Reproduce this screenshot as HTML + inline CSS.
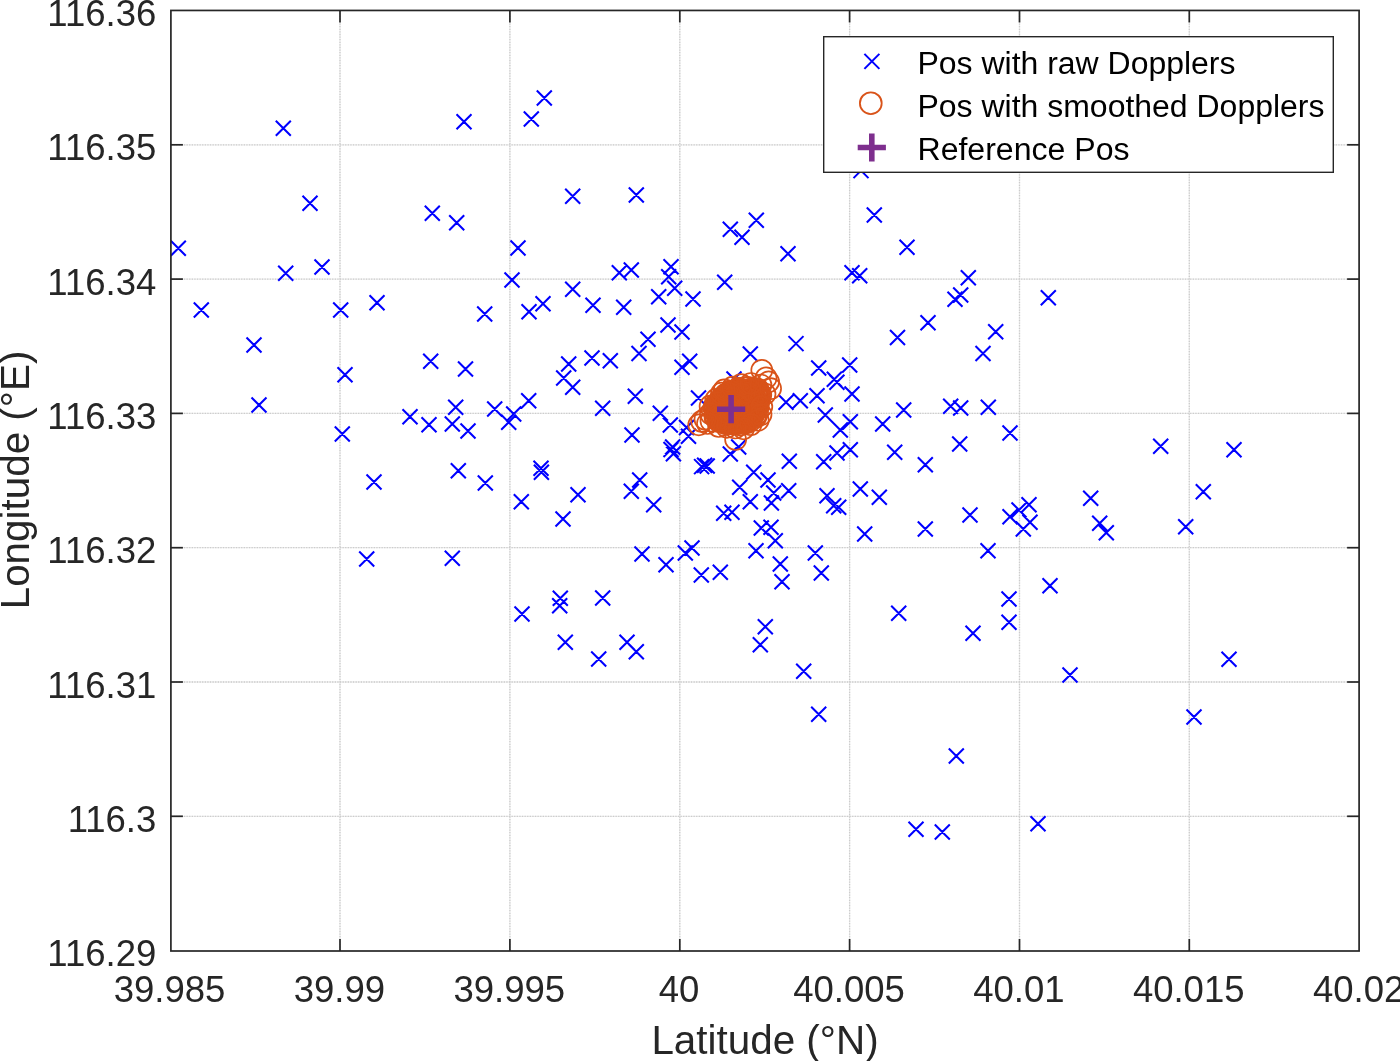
<!DOCTYPE html><html><head><meta charset="utf-8"><title>Scatter</title><style>html,body{margin:0;padding:0;background:#fff}svg{display:block}text{font-family:"Liberation Sans",sans-serif}</style></head><body>
<svg width="1400" height="1061" viewBox="0 0 1400 1061">
<rect width="1400" height="1061" fill="#fff"/>
<g stroke="#eeeeee" stroke-width="1.3" fill="none"><line x1="340.0" y1="10.45" x2="340.0" y2="951.0"/><line x1="509.9" y1="10.45" x2="509.9" y2="951.0"/><line x1="679.8" y1="10.45" x2="679.8" y2="951.0"/><line x1="849.6" y1="10.45" x2="849.6" y2="951.0"/><line x1="1019.5" y1="10.45" x2="1019.5" y2="951.0"/><line x1="1189.3" y1="10.45" x2="1189.3" y2="951.0"/><line x1="170.9" y1="144.8" x2="1359.1" y2="144.8"/><line x1="170.9" y1="279.1" x2="1359.1" y2="279.1"/><line x1="170.9" y1="413.4" x2="1359.1" y2="413.4"/><line x1="170.9" y1="547.7" x2="1359.1" y2="547.7"/><line x1="170.9" y1="682.0" x2="1359.1" y2="682.0"/><line x1="170.9" y1="816.3" x2="1359.1" y2="816.3"/></g>
<g stroke="#cccccc" stroke-width="1.3" stroke-dasharray="1.3 1.3" fill="none"><line x1="340.0" y1="10.45" x2="340.0" y2="951.0"/><line x1="509.9" y1="10.45" x2="509.9" y2="951.0"/><line x1="679.8" y1="10.45" x2="679.8" y2="951.0"/><line x1="849.6" y1="10.45" x2="849.6" y2="951.0"/><line x1="1019.5" y1="10.45" x2="1019.5" y2="951.0"/><line x1="1189.3" y1="10.45" x2="1189.3" y2="951.0"/><line x1="170.9" y1="144.8" x2="1359.1" y2="144.8"/><line x1="170.9" y1="279.1" x2="1359.1" y2="279.1"/><line x1="170.9" y1="413.4" x2="1359.1" y2="413.4"/><line x1="170.9" y1="547.7" x2="1359.1" y2="547.7"/><line x1="170.9" y1="682.0" x2="1359.1" y2="682.0"/><line x1="170.9" y1="816.3" x2="1359.1" y2="816.3"/></g>
<clipPath id="cp"><rect x="170.9" y="10.45" width="1188.1999999999998" height="940.55"/></clipPath>
<g clip-path="url(#cp)">
<path d="M275.8 120.8l15.0 15.0m0 -15.0l-15.0 15.0M302.5 195.8l15.0 15.0m0 -15.0l-15.0 15.0M424.8 205.8l15.0 15.0m0 -15.0l-15.0 15.0M449.2 215.2l15.0 15.0m0 -15.0l-15.0 15.0M456.5 114.2l15.0 15.0m0 -15.0l-15.0 15.0M170.8 240.8l15.0 15.0m0 -15.0l-15.0 15.0M278.2 265.8l15.0 15.0m0 -15.0l-15.0 15.0M314.5 259.5l15.0 15.0m0 -15.0l-15.0 15.0M193.8 302.5l15.0 15.0m0 -15.0l-15.0 15.0M333.2 302.5l15.0 15.0m0 -15.0l-15.0 15.0M369.5 295.2l15.0 15.0m0 -15.0l-15.0 15.0M246.5 337.5l15.0 15.0m0 -15.0l-15.0 15.0M536.8 90.5l15.0 15.0m0 -15.0l-15.0 15.0M523.8 111.5l15.0 15.0m0 -15.0l-15.0 15.0M565.2 188.8l15.0 15.0m0 -15.0l-15.0 15.0M628.8 187.5l15.0 15.0m0 -15.0l-15.0 15.0M510.5 240.5l15.0 15.0m0 -15.0l-15.0 15.0M504.5 272.5l15.0 15.0m0 -15.0l-15.0 15.0M477.2 306.5l15.0 15.0m0 -15.0l-15.0 15.0M521.5 304.2l15.0 15.0m0 -15.0l-15.0 15.0M535.5 296.2l15.0 15.0m0 -15.0l-15.0 15.0M565.2 281.8l15.0 15.0m0 -15.0l-15.0 15.0M585.5 297.8l15.0 15.0m0 -15.0l-15.0 15.0M611.8 265.2l15.0 15.0m0 -15.0l-15.0 15.0M623.8 262.5l15.0 15.0m0 -15.0l-15.0 15.0M616.2 299.8l15.0 15.0m0 -15.0l-15.0 15.0M663.5 259.2l15.0 15.0m0 -15.0l-15.0 15.0M661.2 269.2l15.0 15.0m0 -15.0l-15.0 15.0M667.2 280.8l15.0 15.0m0 -15.0l-15.0 15.0M651.2 289.2l15.0 15.0m0 -15.0l-15.0 15.0M685.5 291.5l15.0 15.0m0 -15.0l-15.0 15.0M660.5 317.5l15.0 15.0m0 -15.0l-15.0 15.0M674.5 324.5l15.0 15.0m0 -15.0l-15.0 15.0M640.5 331.8l15.0 15.0m0 -15.0l-15.0 15.0M631.5 346.0l15.0 15.0m0 -15.0l-15.0 15.0M717.2 274.8l15.0 15.0m0 -15.0l-15.0 15.0M722.8 221.8l15.0 15.0m0 -15.0l-15.0 15.0M734.5 229.8l15.0 15.0m0 -15.0l-15.0 15.0M748.8 212.8l15.0 15.0m0 -15.0l-15.0 15.0M780.5 246.2l15.0 15.0m0 -15.0l-15.0 15.0M788.5 336.1l15.0 15.0m0 -15.0l-15.0 15.0M742.8 346.5l15.0 15.0m0 -15.0l-15.0 15.0M853.5 163.1l15.0 15.0m0 -15.0l-15.0 15.0M866.8 207.5l15.0 15.0m0 -15.0l-15.0 15.0M899.5 239.8l15.0 15.0m0 -15.0l-15.0 15.0M844.5 265.2l15.0 15.0m0 -15.0l-15.0 15.0M852.2 268.2l15.0 15.0m0 -15.0l-15.0 15.0M890.0 330.0l15.0 15.0m0 -15.0l-15.0 15.0M920.5 315.2l15.0 15.0m0 -15.0l-15.0 15.0M960.8 270.2l15.0 15.0m0 -15.0l-15.0 15.0M947.5 291.8l15.0 15.0m0 -15.0l-15.0 15.0M953.2 287.5l15.0 15.0m0 -15.0l-15.0 15.0M1040.8 290.2l15.0 15.0m0 -15.0l-15.0 15.0M988.2 324.2l15.0 15.0m0 -15.0l-15.0 15.0M975.5 346.0l15.0 15.0m0 -15.0l-15.0 15.0M251.5 397.5l15.0 15.0m0 -15.0l-15.0 15.0M337.5 367.2l15.0 15.0m0 -15.0l-15.0 15.0M334.8 426.5l15.0 15.0m0 -15.0l-15.0 15.0M423.2 353.8l15.0 15.0m0 -15.0l-15.0 15.0M458.0 361.5l15.0 15.0m0 -15.0l-15.0 15.0M402.5 409.2l15.0 15.0m0 -15.0l-15.0 15.0M421.5 417.2l15.0 15.0m0 -15.0l-15.0 15.0M448.2 399.8l15.0 15.0m0 -15.0l-15.0 15.0M444.8 416.5l15.0 15.0m0 -15.0l-15.0 15.0M460.5 423.5l15.0 15.0m0 -15.0l-15.0 15.0M366.5 474.5l15.0 15.0m0 -15.0l-15.0 15.0M450.8 463.2l15.0 15.0m0 -15.0l-15.0 15.0M359.2 551.5l15.0 15.0m0 -15.0l-15.0 15.0M444.8 550.8l15.0 15.0m0 -15.0l-15.0 15.0M561.2 356.5l15.0 15.0m0 -15.0l-15.0 15.0M584.5 350.5l15.0 15.0m0 -15.0l-15.0 15.0M602.8 353.2l15.0 15.0m0 -15.0l-15.0 15.0M556.2 370.5l15.0 15.0m0 -15.0l-15.0 15.0M565.2 379.8l15.0 15.0m0 -15.0l-15.0 15.0M674.5 359.8l15.0 15.0m0 -15.0l-15.0 15.0M682.2 353.8l15.0 15.0m0 -15.0l-15.0 15.0M811.2 360.5l15.0 15.0m0 -15.0l-15.0 15.0M842.2 357.5l15.0 15.0m0 -15.0l-15.0 15.0M826.8 371.7l15.0 15.0m0 -15.0l-15.0 15.0M829.4 374.8l15.0 15.0m0 -15.0l-15.0 15.0M809.5 388.2l15.0 15.0m0 -15.0l-15.0 15.0M844.5 386.5l15.0 15.0m0 -15.0l-15.0 15.0M778.5 394.8l15.0 15.0m0 -15.0l-15.0 15.0M792.8 393.2l15.0 15.0m0 -15.0l-15.0 15.0M521.2 393.2l15.0 15.0m0 -15.0l-15.0 15.0M487.2 401.5l15.0 15.0m0 -15.0l-15.0 15.0M506.2 406.5l15.0 15.0m0 -15.0l-15.0 15.0M501.2 414.8l15.0 15.0m0 -15.0l-15.0 15.0M595.2 400.8l15.0 15.0m0 -15.0l-15.0 15.0M627.8 388.8l15.0 15.0m0 -15.0l-15.0 15.0M652.8 405.8l15.0 15.0m0 -15.0l-15.0 15.0M662.8 417.5l15.0 15.0m0 -15.0l-15.0 15.0M624.5 427.5l15.0 15.0m0 -15.0l-15.0 15.0M691.0 390.5l15.0 15.0m0 -15.0l-15.0 15.0M679.0 420.0l15.0 15.0m0 -15.0l-15.0 15.0M817.8 407.5l15.0 15.0m0 -15.0l-15.0 15.0M842.8 414.2l15.0 15.0m0 -15.0l-15.0 15.0M832.8 422.5l15.0 15.0m0 -15.0l-15.0 15.0M896.2 402.5l15.0 15.0m0 -15.0l-15.0 15.0M875.2 416.5l15.0 15.0m0 -15.0l-15.0 15.0M842.8 442.2l15.0 15.0m0 -15.0l-15.0 15.0M829.5 445.5l15.0 15.0m0 -15.0l-15.0 15.0M887.2 444.8l15.0 15.0m0 -15.0l-15.0 15.0M816.2 454.2l15.0 15.0m0 -15.0l-15.0 15.0M781.8 453.8l15.0 15.0m0 -15.0l-15.0 15.0M917.8 457.2l15.0 15.0m0 -15.0l-15.0 15.0M722.8 446.5l15.0 15.0m0 -15.0l-15.0 15.0M694.1 459.1l15.0 15.0m0 -15.0l-15.0 15.0M697.1 457.7l15.0 15.0m0 -15.0l-15.0 15.0M699.7 458.5l15.0 15.0m0 -15.0l-15.0 15.0M746.2 464.8l15.0 15.0m0 -15.0l-15.0 15.0M760.5 472.5l15.0 15.0m0 -15.0l-15.0 15.0M732.2 479.8l15.0 15.0m0 -15.0l-15.0 15.0M766.2 485.5l15.0 15.0m0 -15.0l-15.0 15.0M781.2 483.2l15.0 15.0m0 -15.0l-15.0 15.0M742.8 494.2l15.0 15.0m0 -15.0l-15.0 15.0M763.9 495.5l15.0 15.0m0 -15.0l-15.0 15.0M716.2 505.8l15.0 15.0m0 -15.0l-15.0 15.0M724.5 504.8l15.0 15.0m0 -15.0l-15.0 15.0M819.5 488.2l15.0 15.0m0 -15.0l-15.0 15.0M826.2 498.2l15.0 15.0m0 -15.0l-15.0 15.0M831.2 499.8l15.0 15.0m0 -15.0l-15.0 15.0M852.8 481.5l15.0 15.0m0 -15.0l-15.0 15.0M871.8 489.8l15.0 15.0m0 -15.0l-15.0 15.0M917.8 521.5l15.0 15.0m0 -15.0l-15.0 15.0M857.2 526.5l15.0 15.0m0 -15.0l-15.0 15.0M753.8 520.5l15.0 15.0m0 -15.0l-15.0 15.0M763.5 519.8l15.0 15.0m0 -15.0l-15.0 15.0M767.8 533.2l15.0 15.0m0 -15.0l-15.0 15.0M748.5 543.2l15.0 15.0m0 -15.0l-15.0 15.0M772.8 556.5l15.0 15.0m0 -15.0l-15.0 15.0M774.5 574.2l15.0 15.0m0 -15.0l-15.0 15.0M807.8 545.5l15.0 15.0m0 -15.0l-15.0 15.0M813.8 565.5l15.0 15.0m0 -15.0l-15.0 15.0M634.5 546.5l15.0 15.0m0 -15.0l-15.0 15.0M658.5 557.2l15.0 15.0m0 -15.0l-15.0 15.0M677.8 545.5l15.0 15.0m0 -15.0l-15.0 15.0M684.5 540.5l15.0 15.0m0 -15.0l-15.0 15.0M693.8 567.5l15.0 15.0m0 -15.0l-15.0 15.0M712.8 564.8l15.0 15.0m0 -15.0l-15.0 15.0M477.8 475.5l15.0 15.0m0 -15.0l-15.0 15.0M533.5 460.7l15.0 15.0m0 -15.0l-15.0 15.0M533.9 464.7l15.0 15.0m0 -15.0l-15.0 15.0M513.8 494.2l15.0 15.0m0 -15.0l-15.0 15.0M570.5 487.2l15.0 15.0m0 -15.0l-15.0 15.0M555.5 511.5l15.0 15.0m0 -15.0l-15.0 15.0M632.2 472.5l15.0 15.0m0 -15.0l-15.0 15.0M623.8 483.8l15.0 15.0m0 -15.0l-15.0 15.0M646.2 497.2l15.0 15.0m0 -15.0l-15.0 15.0M514.5 606.5l15.0 15.0m0 -15.0l-15.0 15.0M552.8 590.8l15.0 15.0m0 -15.0l-15.0 15.0M552.2 598.2l15.0 15.0m0 -15.0l-15.0 15.0M595.2 590.5l15.0 15.0m0 -15.0l-15.0 15.0M557.8 634.8l15.0 15.0m0 -15.0l-15.0 15.0M591.2 651.5l15.0 15.0m0 -15.0l-15.0 15.0M619.5 634.8l15.0 15.0m0 -15.0l-15.0 15.0M628.8 644.2l15.0 15.0m0 -15.0l-15.0 15.0M757.8 619.2l15.0 15.0m0 -15.0l-15.0 15.0M752.8 637.2l15.0 15.0m0 -15.0l-15.0 15.0M796.2 663.8l15.0 15.0m0 -15.0l-15.0 15.0M891.2 605.8l15.0 15.0m0 -15.0l-15.0 15.0M811.2 706.8l15.0 15.0m0 -15.0l-15.0 15.0M681.0 428.7l15.0 15.0m0 -15.0l-15.0 15.0M665.1 439.5l15.0 15.0m0 -15.0l-15.0 15.0M665.9 446.2l15.0 15.0m0 -15.0l-15.0 15.0M663.5 442.0l15.0 15.0m0 -15.0l-15.0 15.0M731.2 439.5l15.0 15.0m0 -15.0l-15.0 15.0M726.5 371.5l15.0 15.0m0 -15.0l-15.0 15.0M943.2 398.8l15.0 15.0m0 -15.0l-15.0 15.0M953.2 400.5l15.0 15.0m0 -15.0l-15.0 15.0M980.8 399.8l15.0 15.0m0 -15.0l-15.0 15.0M1002.5 425.5l15.0 15.0m0 -15.0l-15.0 15.0M952.2 436.5l15.0 15.0m0 -15.0l-15.0 15.0M1153.2 438.8l15.0 15.0m0 -15.0l-15.0 15.0M1226.5 442.2l15.0 15.0m0 -15.0l-15.0 15.0M1195.8 484.2l15.0 15.0m0 -15.0l-15.0 15.0M1083.2 490.8l15.0 15.0m0 -15.0l-15.0 15.0M1178.2 519.2l15.0 15.0m0 -15.0l-15.0 15.0M1092.2 515.8l15.0 15.0m0 -15.0l-15.0 15.0M1098.8 525.2l15.0 15.0m0 -15.0l-15.0 15.0M962.5 507.5l15.0 15.0m0 -15.0l-15.0 15.0M1002.5 509.2l15.0 15.0m0 -15.0l-15.0 15.0M1011.5 502.5l15.0 15.0m0 -15.0l-15.0 15.0M1021.5 497.2l15.0 15.0m0 -15.0l-15.0 15.0M1022.5 514.8l15.0 15.0m0 -15.0l-15.0 15.0M1015.8 521.5l15.0 15.0m0 -15.0l-15.0 15.0M980.5 543.2l15.0 15.0m0 -15.0l-15.0 15.0M1042.5 578.2l15.0 15.0m0 -15.0l-15.0 15.0M1001.5 591.5l15.0 15.0m0 -15.0l-15.0 15.0M1001.5 614.8l15.0 15.0m0 -15.0l-15.0 15.0M965.5 625.8l15.0 15.0m0 -15.0l-15.0 15.0M1062.5 667.5l15.0 15.0m0 -15.0l-15.0 15.0M1221.5 651.8l15.0 15.0m0 -15.0l-15.0 15.0M908.5 821.8l15.0 15.0m0 -15.0l-15.0 15.0M1186.5 709.5l15.0 15.0m0 -15.0l-15.0 15.0M948.8 748.5l15.0 15.0m0 -15.0l-15.0 15.0M934.8 824.5l15.0 15.0m0 -15.0l-15.0 15.0M1030.5 816.2l15.0 15.0m0 -15.0l-15.0 15.0" stroke="#0000ff" stroke-width="2.05" fill="none"/>
<g stroke="#d95319" stroke-width="1.7" fill="none">
<circle cx="739.8" cy="399.0" r="10.5"/>
<circle cx="732.6" cy="423.0" r="10.5"/>
<circle cx="742.5" cy="400.6" r="10.5"/>
<circle cx="760.8" cy="395.1" r="10.5"/>
<circle cx="725.1" cy="422.4" r="10.5"/>
<circle cx="716.7" cy="410.2" r="10.5"/>
<circle cx="746.5" cy="399.4" r="10.5"/>
<circle cx="749.2" cy="402.2" r="10.5"/>
<circle cx="725.4" cy="410.4" r="10.5"/>
<circle cx="734.5" cy="395.6" r="10.5"/>
<circle cx="720.9" cy="409.9" r="10.5"/>
<circle cx="752.4" cy="395.0" r="10.5"/>
<circle cx="732.2" cy="419.4" r="10.5"/>
<circle cx="714.9" cy="405.4" r="10.5"/>
<circle cx="754.7" cy="409.8" r="10.5"/>
<circle cx="750.2" cy="410.9" r="10.5"/>
<circle cx="742.7" cy="403.7" r="10.5"/>
<circle cx="735.8" cy="414.5" r="10.5"/>
<circle cx="758.4" cy="394.8" r="10.5"/>
<circle cx="730.1" cy="414.8" r="10.5"/>
<circle cx="723.1" cy="401.6" r="10.5"/>
<circle cx="720.2" cy="405.2" r="10.5"/>
<circle cx="743.3" cy="393.7" r="10.5"/>
<circle cx="729.0" cy="409.4" r="10.5"/>
<circle cx="738.5" cy="412.1" r="10.5"/>
<circle cx="730.5" cy="400.7" r="10.5"/>
<circle cx="744.9" cy="387.7" r="10.5"/>
<circle cx="721.4" cy="398.1" r="10.5"/>
<circle cx="735.3" cy="405.2" r="10.5"/>
<circle cx="727.3" cy="393.8" r="10.5"/>
<circle cx="722.0" cy="399.1" r="10.5"/>
<circle cx="739.6" cy="420.5" r="10.5"/>
<circle cx="719.7" cy="406.9" r="10.5"/>
<circle cx="721.8" cy="416.0" r="10.5"/>
<circle cx="747.4" cy="421.6" r="10.5"/>
<circle cx="753.8" cy="404.9" r="10.5"/>
<circle cx="726.6" cy="421.6" r="10.5"/>
<circle cx="752.1" cy="388.8" r="10.5"/>
<circle cx="727.8" cy="408.5" r="10.5"/>
<circle cx="758.7" cy="391.0" r="10.5"/>
<circle cx="720.6" cy="410.5" r="10.5"/>
<circle cx="721.9" cy="401.8" r="10.5"/>
<circle cx="728.0" cy="403.8" r="10.5"/>
<circle cx="737.6" cy="407.7" r="10.5"/>
<circle cx="716.2" cy="404.6" r="10.5"/>
<circle cx="752.1" cy="408.9" r="10.5"/>
<circle cx="726.2" cy="407.0" r="10.5"/>
<circle cx="741.1" cy="420.8" r="10.5"/>
<circle cx="755.2" cy="406.4" r="10.5"/>
<circle cx="741.5" cy="419.5" r="10.5"/>
<circle cx="744.8" cy="406.3" r="10.5"/>
<circle cx="738.3" cy="416.0" r="10.5"/>
<circle cx="734.4" cy="407.7" r="10.5"/>
<circle cx="715.0" cy="417.2" r="10.5"/>
<circle cx="747.9" cy="387.4" r="10.5"/>
<circle cx="730.9" cy="405.3" r="10.5"/>
<circle cx="738.5" cy="397.6" r="10.5"/>
<circle cx="741.0" cy="402.9" r="10.5"/>
<circle cx="745.6" cy="406.6" r="10.5"/>
<circle cx="758.2" cy="393.4" r="10.5"/>
<circle cx="742.1" cy="416.4" r="10.5"/>
<circle cx="749.7" cy="402.1" r="10.5"/>
<circle cx="746.2" cy="421.7" r="10.5"/>
<circle cx="734.5" cy="397.6" r="10.5"/>
<circle cx="739.2" cy="392.4" r="10.5"/>
<circle cx="725.3" cy="395.9" r="10.5"/>
<circle cx="754.4" cy="395.1" r="10.5"/>
<circle cx="737.5" cy="389.3" r="10.5"/>
<circle cx="752.7" cy="408.7" r="10.5"/>
<circle cx="717.3" cy="404.7" r="10.5"/>
<circle cx="758.2" cy="402.5" r="10.5"/>
<circle cx="737.2" cy="423.4" r="10.5"/>
<circle cx="730.6" cy="406.3" r="10.5"/>
<circle cx="727.3" cy="423.3" r="10.5"/>
<circle cx="750.9" cy="413.1" r="10.5"/>
<circle cx="731.3" cy="398.1" r="10.5"/>
<circle cx="724.0" cy="403.9" r="10.5"/>
<circle cx="725.1" cy="398.5" r="10.5"/>
<circle cx="735.9" cy="406.1" r="10.5"/>
<circle cx="718.1" cy="406.2" r="10.5"/>
<circle cx="743.1" cy="407.5" r="10.5"/>
<circle cx="753.8" cy="414.2" r="10.5"/>
<circle cx="730.3" cy="397.0" r="10.5"/>
<circle cx="752.1" cy="413.4" r="10.5"/>
<circle cx="714.1" cy="407.2" r="10.5"/>
<circle cx="737.8" cy="423.4" r="10.5"/>
<circle cx="749.4" cy="416.1" r="10.5"/>
<circle cx="741.3" cy="412.6" r="10.5"/>
<circle cx="745.7" cy="415.4" r="10.5"/>
<circle cx="737.7" cy="407.8" r="10.5"/>
<circle cx="752.9" cy="393.1" r="10.5"/>
<circle cx="752.4" cy="390.7" r="10.5"/>
<circle cx="737.1" cy="399.9" r="10.5"/>
<circle cx="736.1" cy="415.6" r="10.5"/>
<circle cx="754.9" cy="412.1" r="10.5"/>
<circle cx="753.3" cy="395.8" r="10.5"/>
<circle cx="748.7" cy="416.0" r="10.5"/>
<circle cx="748.9" cy="395.1" r="10.5"/>
<circle cx="738.6" cy="404.2" r="10.5"/>
<circle cx="734.2" cy="394.0" r="10.5"/>
<circle cx="718.7" cy="410.2" r="10.5"/>
<circle cx="714.2" cy="407.3" r="10.5"/>
<circle cx="758.3" cy="406.5" r="10.5"/>
<circle cx="734.3" cy="395.7" r="10.5"/>
<circle cx="725.5" cy="423.7" r="10.5"/>
<circle cx="729.2" cy="400.4" r="10.5"/>
<circle cx="728.4" cy="402.3" r="10.5"/>
<circle cx="738.2" cy="389.9" r="10.5"/>
<circle cx="752.6" cy="403.4" r="10.5"/>
<circle cx="753.9" cy="413.5" r="10.5"/>
<circle cx="735.7" cy="397.9" r="10.5"/>
<circle cx="724.4" cy="418.4" r="10.5"/>
<circle cx="747.6" cy="395.6" r="10.5"/>
<circle cx="741.2" cy="400.5" r="10.5"/>
<circle cx="737.3" cy="391.4" r="10.5"/>
<circle cx="753.7" cy="401.5" r="10.5"/>
<circle cx="731.9" cy="407.3" r="10.5"/>
<circle cx="729.5" cy="397.6" r="10.5"/>
<circle cx="737.7" cy="412.7" r="10.5"/>
<circle cx="731.0" cy="403.2" r="10.5"/>
<circle cx="739.0" cy="415.5" r="10.5"/>
<circle cx="747.1" cy="419.8" r="10.5"/>
<circle cx="734.7" cy="408.7" r="10.5"/>
<circle cx="747.0" cy="395.8" r="10.5"/>
<circle cx="746.4" cy="416.3" r="10.5"/>
<circle cx="739.1" cy="410.3" r="10.5"/>
<circle cx="730.2" cy="391.6" r="10.5"/>
<circle cx="724.6" cy="404.0" r="10.5"/>
<circle cx="737.4" cy="415.1" r="10.5"/>
<circle cx="732.3" cy="393.4" r="10.5"/>
<circle cx="727.0" cy="401.9" r="10.5"/>
<circle cx="749.4" cy="390.3" r="10.5"/>
<circle cx="737.8" cy="390.7" r="10.5"/>
<circle cx="758.3" cy="392.0" r="10.5"/>
<circle cx="719.4" cy="419.5" r="10.5"/>
<circle cx="737.2" cy="389.7" r="10.5"/>
<circle cx="719.5" cy="401.7" r="10.5"/>
<circle cx="748.2" cy="399.7" r="10.5"/>
<circle cx="729.3" cy="397.2" r="10.5"/>
<circle cx="723.2" cy="398.3" r="10.5"/>
<circle cx="728.2" cy="422.7" r="10.5"/>
<circle cx="758.4" cy="402.5" r="10.5"/>
<circle cx="731.7" cy="422.2" r="10.5"/>
<circle cx="727.0" cy="394.2" r="10.5"/>
<circle cx="722.0" cy="417.3" r="10.5"/>
<circle cx="725.6" cy="394.3" r="10.5"/>
<circle cx="720.2" cy="404.7" r="10.5"/>
<circle cx="730.1" cy="393.1" r="10.5"/>
<circle cx="732.9" cy="405.7" r="10.5"/>
<circle cx="744.5" cy="397.0" r="10.5"/>
<circle cx="725.8" cy="398.8" r="10.5"/>
<circle cx="717.8" cy="419.2" r="10.5"/>
<circle cx="751.1" cy="403.2" r="10.5"/>
<circle cx="720.2" cy="401.7" r="10.5"/>
<circle cx="745.3" cy="415.1" r="10.5"/>
<circle cx="759.7" cy="395.3" r="10.5"/>
<circle cx="741.8" cy="399.4" r="10.5"/>
<circle cx="753.0" cy="390.4" r="10.5"/>
<circle cx="742.6" cy="397.0" r="10.5"/>
<circle cx="738.0" cy="392.0" r="10.5"/>
<circle cx="735.9" cy="422.6" r="10.5"/>
<circle cx="721.9" cy="420.4" r="10.5"/>
<circle cx="743.7" cy="412.2" r="10.5"/>
<circle cx="721.6" cy="411.2" r="10.5"/>
<circle cx="747.4" cy="390.6" r="10.5"/>
<circle cx="749.1" cy="389.6" r="10.5"/>
<circle cx="756.7" cy="408.5" r="10.5"/>
<circle cx="730.7" cy="408.6" r="10.5"/>
<circle cx="715.6" cy="416.2" r="10.5"/>
<circle cx="731.6" cy="394.7" r="10.5"/>
<circle cx="725.3" cy="409.5" r="10.5"/>
<circle cx="728.2" cy="401.7" r="10.5"/>
<circle cx="752.3" cy="390.6" r="10.5"/>
<circle cx="732.5" cy="422.7" r="10.5"/>
<circle cx="729.1" cy="406.2" r="10.5"/>
<circle cx="756.1" cy="391.5" r="10.5"/>
<circle cx="731.3" cy="424.0" r="10.5"/>
<circle cx="719.2" cy="400.8" r="10.5"/>
<circle cx="738.7" cy="399.9" r="10.5"/>
<circle cx="744.0" cy="408.6" r="10.5"/>
<circle cx="745.8" cy="395.9" r="10.5"/>
<circle cx="732.3" cy="410.3" r="10.5"/>
<circle cx="732.7" cy="414.3" r="10.5"/>
<circle cx="734.0" cy="402.8" r="10.5"/>
<circle cx="736.8" cy="392.2" r="10.5"/>
<circle cx="737.8" cy="399.6" r="10.5"/>
<circle cx="754.2" cy="388.3" r="10.5"/>
<circle cx="737.9" cy="396.6" r="10.5"/>
<circle cx="746.4" cy="398.7" r="10.5"/>
<circle cx="745.9" cy="400.5" r="10.5"/>
<circle cx="756.8" cy="393.8" r="10.5"/>
<circle cx="728.4" cy="419.8" r="10.5"/>
<circle cx="758.3" cy="393.2" r="10.5"/>
<circle cx="743.1" cy="414.5" r="10.5"/>
<circle cx="745.0" cy="402.5" r="10.5"/>
<circle cx="719.6" cy="410.3" r="10.5"/>
<circle cx="743.3" cy="390.6" r="10.5"/>
<circle cx="745.6" cy="404.7" r="10.5"/>
<circle cx="731.1" cy="393.7" r="10.5"/>
<circle cx="741.6" cy="398.2" r="10.5"/>
<circle cx="747.0" cy="403.1" r="10.5"/>
<circle cx="731.4" cy="392.4" r="10.5"/>
<circle cx="718.0" cy="411.6" r="10.5"/>
<circle cx="738.0" cy="413.4" r="10.5"/>
<circle cx="757.9" cy="389.1" r="10.5"/>
<circle cx="725.1" cy="395.6" r="10.5"/>
<circle cx="753.4" cy="404.2" r="10.5"/>
<circle cx="753.2" cy="403.5" r="10.5"/>
<circle cx="726.8" cy="419.0" r="10.5"/>
<circle cx="751.3" cy="393.8" r="10.5"/>
<circle cx="741.0" cy="402.7" r="10.5"/>
<circle cx="756.2" cy="407.2" r="10.5"/>
<circle cx="722.2" cy="413.4" r="10.5"/>
<circle cx="753.5" cy="397.0" r="10.5"/>
<circle cx="746.0" cy="416.0" r="10.5"/>
<circle cx="735.5" cy="423.7" r="10.5"/>
<circle cx="733.4" cy="417.7" r="10.5"/>
<circle cx="742.1" cy="396.0" r="10.5"/>
<circle cx="718.8" cy="412.4" r="10.5"/>
<circle cx="750.0" cy="413.0" r="10.5"/>
<circle cx="750.3" cy="418.3" r="10.5"/>
<circle cx="728.6" cy="422.5" r="10.5"/>
<circle cx="746.2" cy="422.9" r="10.5"/>
<circle cx="746.0" cy="394.9" r="10.5"/>
<circle cx="754.2" cy="390.7" r="10.5"/>
<circle cx="725.7" cy="402.0" r="10.5"/>
<circle cx="723.4" cy="417.2" r="10.5"/>
<circle cx="728.9" cy="396.7" r="10.5"/>
<circle cx="733.4" cy="420.2" r="10.5"/>
<circle cx="727.5" cy="416.6" r="10.5"/>
<circle cx="740.0" cy="391.3" r="10.5"/>
<circle cx="736.9" cy="421.4" r="10.5"/>
<circle cx="717.0" cy="405.7" r="10.5"/>
<circle cx="727.6" cy="423.3" r="10.5"/>
<circle cx="750.5" cy="405.9" r="10.5"/>
<circle cx="750.3" cy="420.9" r="10.5"/>
<circle cx="745.8" cy="398.5" r="10.5"/>
<circle cx="731.1" cy="400.5" r="10.5"/>
<circle cx="720.2" cy="404.0" r="10.5"/>
<circle cx="739.6" cy="419.2" r="10.5"/>
<circle cx="753.9" cy="413.6" r="10.5"/>
<circle cx="727.7" cy="397.0" r="10.5"/>
<circle cx="748.0" cy="418.6" r="10.5"/>
<circle cx="755.3" cy="410.1" r="10.5"/>
<circle cx="738.9" cy="388.4" r="10.5"/>
<circle cx="752.7" cy="402.6" r="10.5"/>
<circle cx="717.8" cy="413.2" r="10.5"/>
<circle cx="730.9" cy="421.1" r="10.5"/>
<circle cx="750.1" cy="406.0" r="10.5"/>
<circle cx="746.1" cy="404.1" r="10.5"/>
<circle cx="731.3" cy="418.5" r="10.5"/>
<circle cx="742.3" cy="419.0" r="10.5"/>
<circle cx="732.4" cy="391.9" r="10.5"/>
<circle cx="755.3" cy="416.4" r="10.5"/>
<circle cx="746.7" cy="403.6" r="10.5"/>
<circle cx="725.3" cy="412.7" r="10.5"/>
<circle cx="755.9" cy="417.1" r="10.5"/>
<circle cx="745.9" cy="393.0" r="10.5"/>
<circle cx="732.5" cy="403.7" r="10.5"/>
<circle cx="745.4" cy="401.3" r="10.5"/>
<circle cx="716.9" cy="414.0" r="10.5"/>
<circle cx="755.6" cy="400.2" r="10.5"/>
<circle cx="740.2" cy="417.3" r="10.5"/>
<circle cx="738.3" cy="413.2" r="10.5"/>
<circle cx="718.7" cy="415.6" r="10.5"/>
<circle cx="730.5" cy="419.7" r="10.5"/>
<circle cx="722.8" cy="400.8" r="10.5"/>
<circle cx="732.3" cy="416.3" r="10.5"/>
<circle cx="727.9" cy="393.8" r="10.5"/>
<circle cx="719.6" cy="418.6" r="10.5"/>
<circle cx="719.2" cy="421.7" r="10.5"/>
<circle cx="730.5" cy="391.0" r="10.5"/>
<circle cx="757.6" cy="413.0" r="10.5"/>
<circle cx="735.5" cy="409.2" r="10.5"/>
<circle cx="728.0" cy="413.2" r="10.5"/>
<circle cx="735.4" cy="395.3" r="10.5"/>
<circle cx="759.2" cy="398.4" r="10.5"/>
<circle cx="760.3" cy="393.9" r="10.5"/>
<circle cx="729.4" cy="393.2" r="10.5"/>
<circle cx="724.6" cy="404.9" r="10.5"/>
<circle cx="732.9" cy="413.1" r="10.5"/>
<circle cx="747.9" cy="398.8" r="10.5"/>
<circle cx="747.6" cy="393.0" r="10.5"/>
<circle cx="720.2" cy="420.4" r="10.5"/>
<circle cx="744.5" cy="420.6" r="10.5"/>
<circle cx="717.8" cy="416.0" r="10.5"/>
<circle cx="739.5" cy="418.6" r="10.5"/>
<circle cx="741.1" cy="393.8" r="10.5"/>
<circle cx="736.9" cy="405.9" r="10.5"/>
<circle cx="740.1" cy="424.9" r="10.5"/>
<circle cx="735.4" cy="409.3" r="10.5"/>
<circle cx="729.4" cy="401.8" r="10.5"/>
<circle cx="746.4" cy="413.1" r="10.5"/>
<circle cx="738.2" cy="405.2" r="10.5"/>
<circle cx="751.7" cy="412.5" r="10.5"/>
<circle cx="728.8" cy="404.7" r="10.5"/>
<circle cx="739.2" cy="420.1" r="10.5"/>
<circle cx="718.7" cy="402.6" r="10.5"/>
<circle cx="732.5" cy="408.8" r="10.5"/>
<circle cx="758.7" cy="395.2" r="10.5"/>
<circle cx="710.1" cy="406.2" r="10.5"/>
<circle cx="715.8" cy="399.7" r="10.5"/>
<circle cx="721.5" cy="393.2" r="10.5"/>
<circle cx="724.3" cy="389.8" r="10.5"/>
<circle cx="732.8" cy="387.2" r="10.5"/>
<circle cx="741.2" cy="384.7" r="10.5"/>
<circle cx="750.9" cy="383.5" r="10.5"/>
<circle cx="761.0" cy="385.0" r="10.5"/>
<circle cx="765.0" cy="394.0" r="10.5"/>
<circle cx="761.8" cy="406.7" r="10.5"/>
<circle cx="761.0" cy="414.6" r="10.5"/>
<circle cx="758.2" cy="420.3" r="10.5"/>
<circle cx="750.9" cy="424.6" r="10.5"/>
<circle cx="743.5" cy="428.8" r="10.5"/>
<circle cx="735.2" cy="428.0" r="10.5"/>
<circle cx="726.9" cy="427.3" r="10.5"/>
<circle cx="718.6" cy="426.5" r="10.5"/>
<circle cx="711.0" cy="421.0" r="10.5"/>
<circle cx="710.5" cy="413.6" r="10.5"/>
<circle cx="761.8" cy="370.3" r="10.5"/>
<circle cx="766.1" cy="377.9" r="10.5"/>
<circle cx="768.6" cy="381.8" r="10.5"/>
<circle cx="770.6" cy="388.6" r="10.5"/>
<circle cx="698.8" cy="424.8" r="10.5"/>
<circle cx="701.7" cy="421.4" r="10.5"/>
<circle cx="705" cy="419.2" r="10.5"/>
<circle cx="707.5" cy="423.5" r="10.5"/>
<circle cx="735.6" cy="439.5" r="10.5"/>
</g>
<path d="M731.1 395.1v28.2M717 409.2h28.2" stroke="#7e2f8e" stroke-width="5.6" fill="none"/>
</g>
<g stroke="#262626" stroke-width="1.7" fill="none">
<rect x="170.9" y="10.45" width="1188.1999999999998" height="940.55"/>
<line x1="340.0" y1="951.0" x2="340.0" y2="939.0"/><line x1="340.0" y1="10.45" x2="340.0" y2="22.45"/>
<line x1="509.9" y1="951.0" x2="509.9" y2="939.0"/><line x1="509.9" y1="10.45" x2="509.9" y2="22.45"/>
<line x1="679.8" y1="951.0" x2="679.8" y2="939.0"/><line x1="679.8" y1="10.45" x2="679.8" y2="22.45"/>
<line x1="849.6" y1="951.0" x2="849.6" y2="939.0"/><line x1="849.6" y1="10.45" x2="849.6" y2="22.45"/>
<line x1="1019.5" y1="951.0" x2="1019.5" y2="939.0"/><line x1="1019.5" y1="10.45" x2="1019.5" y2="22.45"/>
<line x1="1189.3" y1="951.0" x2="1189.3" y2="939.0"/><line x1="1189.3" y1="10.45" x2="1189.3" y2="22.45"/>
<line x1="170.9" y1="144.8" x2="182.9" y2="144.8"/><line x1="1359.1" y1="144.8" x2="1347.1" y2="144.8"/>
<line x1="170.9" y1="279.1" x2="182.9" y2="279.1"/><line x1="1359.1" y1="279.1" x2="1347.1" y2="279.1"/>
<line x1="170.9" y1="413.4" x2="182.9" y2="413.4"/><line x1="1359.1" y1="413.4" x2="1347.1" y2="413.4"/>
<line x1="170.9" y1="547.7" x2="182.9" y2="547.7"/><line x1="1359.1" y1="547.7" x2="1347.1" y2="547.7"/>
<line x1="170.9" y1="682.0" x2="182.9" y2="682.0"/><line x1="1359.1" y1="682.0" x2="1347.1" y2="682.0"/>
<line x1="170.9" y1="816.3" x2="182.9" y2="816.3"/><line x1="1359.1" y1="816.3" x2="1347.1" y2="816.3"/>
</g>
<g fill="#262626" font-size="36.5">
<text x="169.6" y="1001.6" text-anchor="middle">39.985</text>
<text x="339.4" y="1001.6" text-anchor="middle">39.99</text>
<text x="509.3" y="1001.6" text-anchor="middle">39.995</text>
<text x="679.1" y="1001.6" text-anchor="middle">40</text>
<text x="849.0" y="1001.6" text-anchor="middle">40.005</text>
<text x="1018.9" y="1001.6" text-anchor="middle">40.01</text>
<text x="1188.7" y="1001.6" text-anchor="middle">40.015</text>
<text x="1358.6" y="1001.6" text-anchor="middle">40.02</text>
<text x="156.3" y="26.0" text-anchor="end">116.36</text>
<text x="156.3" y="160.3" text-anchor="end">116.35</text>
<text x="156.3" y="294.6" text-anchor="end">116.34</text>
<text x="156.3" y="428.9" text-anchor="end">116.33</text>
<text x="156.3" y="563.2" text-anchor="end">116.32</text>
<text x="156.3" y="697.5" text-anchor="end">116.31</text>
<text x="156.3" y="831.8" text-anchor="end">116.3</text>
<text x="156.3" y="966.1" text-anchor="end">116.29</text>
</g>
<text x="765" y="1054" text-anchor="middle" font-size="40.4" fill="#262626">Latitude (°N)</text>
<text transform="translate(29,480) rotate(-90)" text-anchor="middle" font-size="40.4" fill="#262626">Longitude (°E)</text>
<rect x="823.7" y="36.7" width="509.6" height="135.6" fill="#fff" stroke="#262626" stroke-width="1.4"/>
<path d="M864.4 53.9l15.0 15.0m0 -15.0l-15.0 15.0" stroke="#0000ff" stroke-width="2.05" fill="none"/>
<circle cx="870.8" cy="103.2" r="10.9" stroke="#d95319" stroke-width="1.8" fill="none"/>
<path d="M871.8 133.4v28.2M857.7 147.5h28.2" stroke="#7e2f8e" stroke-width="5.6" fill="none"/>
<g fill="#000" font-size="31" lengthAdjust="spacingAndGlyphs">
<text x="917.5" y="74" textLength="318" lengthAdjust="spacingAndGlyphs">Pos with raw Dopplers</text>
<text x="917.5" y="117" textLength="407" lengthAdjust="spacingAndGlyphs">Pos with smoothed Dopplers</text>
<text x="917.5" y="160.3" textLength="212" lengthAdjust="spacingAndGlyphs">Reference Pos</text>
</g>
</svg></body></html>
